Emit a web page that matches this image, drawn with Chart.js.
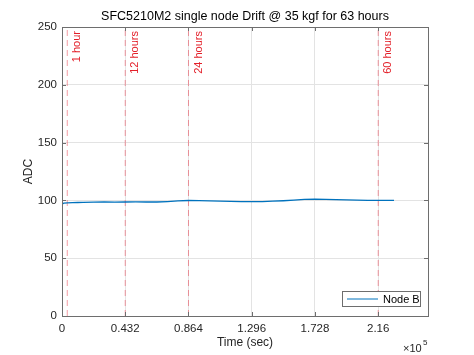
<!DOCTYPE html>
<html>
<head>
<meta charset="utf-8">
<script src="https://cdn.jsdelivr.net/npm/chart.js@4/dist/chart.umd.min.js"></script>
<style>
  html, body { margin: 0; padding: 0; background: #ffffff; }
  #wrap { width: 474px; height: 355px; }
</style>
</head>
<body>
<div id="wrap"><canvas id="c" width="474" height="355"></canvas></div>
<script>
const chartTitle = 'SFC5210M2 single node Drift @ 35 kgf for 63 hours';
const seriesName = 'Node B';
const timeSec = [0, 1200, 3600, 7200, 10800, 14400, 21600, 28800, 36000, 43200, 50400, 57600, 64800, 72000, 79200, 86400, 93600, 100800, 108000, 115200, 122400, 129600, 136800, 144000, 151200, 158400, 165600, 172800, 180000, 187200, 194400, 201600, 208800, 216000, 223200, 226800];
const adcValues = [96.8, 97.6, 97.9, 98.1, 98.2, 98.3, 98.5, 98.6, 98.5, 98.6, 98.7, 98.6, 98.6, 99.0, 99.6, 99.9, 99.8, 99.6, 99.3, 99.2, 99.0, 98.9, 99.0, 99.3, 99.7, 100.3, 100.9, 101.1, 100.8, 100.6, 100.4, 100.2, 100.1, 100.1, 100.0, 100.1];
const markerTimes = [3600, 43200, 86400, 216000];
const markerLabels = ['1 hour', '12 hours', '24 hours', '60 hours'];
const xTickValues = [0, 43200, 86400, 129600, 172800, 216000];
const xTickLabels = ['0', '0.432', '0.864', '1.296', '1.728', '2.16'];
const yTickValues = [0, 50, 100, 150, 200, 250];

const FONT = "'Liberation Sans', Arial, Helvetica, sans-serif";
const AXIS_COLOR = '#262626';
const BLUE = '#0072BD';
const RED_LINE = 'rgba(235, 60, 75, 0.5)';
const RED_TEXT = '#e3202a';

const datasets = [];
markerTimes.forEach((t, i) => {
  datasets.push({
    label: markerLabels[i],
    data: [{ x: t, y: 0 }, { x: t, y: 250 }],
    borderColor: RED_LINE,
    borderWidth: 1,
    borderDash: [6, 4],
    pointRadius: 0,
    fill: false
  });
});
datasets.push({
  label: seriesName,
  data: timeSec.map((t, i) => ({ x: t, y: adcValues[i] })),
  borderColor: BLUE,
  borderWidth: 1.3,
  pointRadius: 0,
  tension: 0,
  fill: false,
  order: -1
});

const decorPlugin = {
  id: 'decor',
  afterDraw(chart) {
    const ctx = chart.ctx;
    const a = chart.chartArea;
    const xs = chart.scales.x, ys = chart.scales.y;
    ctx.save();
    // title centered over plot area
    ctx.fillStyle = '#000000';
    ctx.font = '12.5px ' + FONT;
    ctx.textAlign = 'center';
    ctx.textBaseline = 'middle';
    ctx.fillText(chartTitle, (a.left + a.right) / 2, 17);
    // box
    ctx.strokeStyle = '#6e6e6e';
    ctx.lineWidth = 1;
    ctx.strokeRect(Math.round(a.left) + 0.5, Math.round(a.top) + 0.5, Math.round(a.right - a.left), Math.round(a.bottom - a.top));
    // inward ticks
    ctx.beginPath();
    xTickValues.forEach(v => {
      const px = Math.round(xs.getPixelForValue(v)) + 0.5;
      ctx.moveTo(px, a.bottom); ctx.lineTo(px, a.bottom - 4);
      ctx.moveTo(px, a.top); ctx.lineTo(px, a.top + 4);
    });
    yTickValues.forEach(v => {
      const py = Math.round(ys.getPixelForValue(v)) + 0.5;
      ctx.moveTo(a.left, py); ctx.lineTo(a.left + 4, py);
      ctx.moveTo(a.right, py); ctx.lineTo(a.right - 4, py);
    });
    ctx.stroke();
    // marker labels
    ctx.fillStyle = RED_TEXT;
    ctx.font = '11px ' + FONT;
    ctx.textAlign = 'right';
    ctx.textBaseline = 'middle';
    markerTimes.forEach((t, i) => {
      const px = xs.getPixelForValue(t);
      ctx.save();
      ctx.translate(px + 10, a.top + 4);
      ctx.rotate(-Math.PI / 2);
      ctx.fillText(markerLabels[i], 0, 0);
      ctx.restore();
    });
    // legend
    const lx = 342, ly = 291, lw = 78, lh = 15;
    ctx.fillStyle = '#ffffff';
    ctx.fillRect(lx, ly, lw, lh);
    ctx.strokeStyle = '#6e6e6e';
    ctx.strokeRect(lx + 0.5, ly + 0.5, lw, lh);
    ctx.strokeStyle = BLUE;
    ctx.lineWidth = 1;
    ctx.beginPath();
    ctx.moveTo(347, ly + 8); ctx.lineTo(378, ly + 8);
    ctx.stroke();
    ctx.fillStyle = '#000000';
    ctx.textAlign = 'left';
    ctx.textBaseline = 'middle';
    ctx.font = '11px ' + FONT;
    ctx.fillText(seriesName, 383, ly + 8.5);
    // exponent
    ctx.fillStyle = AXIS_COLOR;
    ctx.textBaseline = 'alphabetic';
    ctx.font = '11px ' + FONT;
    ctx.fillText('\u00d710', 403, 352);
    ctx.font = '8px ' + FONT;
    ctx.fillText('5', 423, 345);
    ctx.restore();
  }
};

new Chart(document.getElementById('c'), {
  type: 'line',
  data: { datasets },
  options: {
    responsive: false,
    devicePixelRatio: 1,
    animation: false,
    layout: { padding: { left: 0, right: 46, top: 27, bottom: 0 } },
    plugins: {
      legend: { display: false },
      tooltip: { enabled: false },
      title: { display: false }
    },
    scales: {
      x: {
        type: 'linear',
        min: 0,
        max: 250000,
        afterBuildTicks(scale) { scale.ticks = xTickValues.map(v => ({ value: v })); },
        afterFit(scale) { scale.height = 39; },
        grid: { color: '#e3e3e3', drawTicks: false },
        border: { display: false },
        ticks: {
          padding: 6,
          color: AXIS_COLOR,
          font: { family: FONT, size: 11.5 },
          maxRotation: 0,
          autoSkip: false,
          callback: (v, i) => xTickLabels[i]
        },
        title: {
          display: true,
          text: 'Time (sec)',
          color: AXIS_COLOR,
          font: { family: FONT, size: 12 },
          padding: { top: 0, bottom: 5 }
        }
      },
      y: {
        type: 'linear',
        min: 0,
        max: 250,
        afterBuildTicks(scale) { scale.ticks = yTickValues.map(v => ({ value: v })); },
        afterFit(scale) { scale.width = 62; },
        grid: { color: '#e3e3e3', drawTicks: false },
        border: { display: false },
        ticks: {
          padding: 5,
          color: AXIS_COLOR,
          font: { family: FONT, size: 11.5 }
        },
        title: {
          display: true,
          text: 'ADC',
          color: AXIS_COLOR,
          font: { family: FONT, size: 12 },
          padding: { top: 21, bottom: 0 }
        }
      }
    }
  },
  plugins: [decorPlugin]
});
</script>
</body>
</html>
